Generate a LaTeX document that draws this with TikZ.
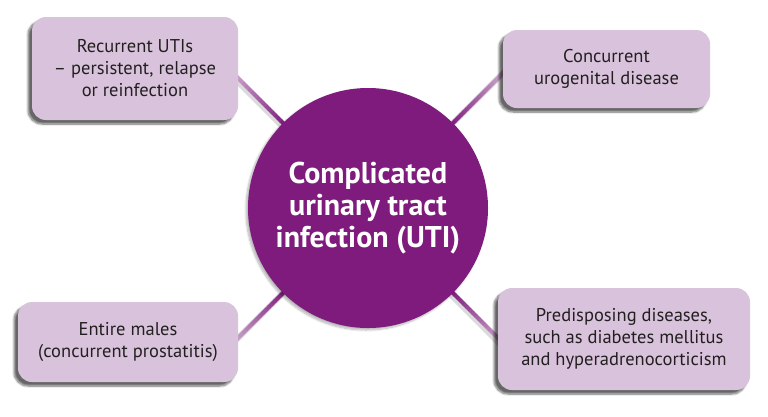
\documentclass[tikz,border=0pt]{standalone}
\usepackage{fontspec}
\setmainfont{PT Sans}
\usetikzlibrary{calc,shadows.blur,backgrounds}
\definecolor{plum}{HTML}{7E1B7D}
\definecolor{lilac}{HTML}{D9C3DC}
\definecolor{linelight}{HTML}{D6B8D8}
\definecolor{txt}{HTML}{231F20}
\tikzset{
  box/.style={rectangle, rounded corners=14pt, fill=lilac, text=txt, align=center,
    font=\fontsize{18.5}{22}\selectfont, inner sep=0pt,
    blur shadow={shadow xshift=-4pt, shadow yshift=-4pt, shadow blur steps=8, shadow opacity=60}},
  hub/.style={circle, fill=plum, text=white, align=center, minimum size=240pt, inner sep=0pt,
    font=\fontsize{30}{32}\selectfont\bfseries,
    blur shadow={shadow xshift=-2pt, shadow yshift=-2pt, shadow blur steps=8, shadow opacity=30}},
}
\begin{document}
\begin{tikzpicture}[x=1pt,y=-1pt]
\useasboundingbox (0,0) rectangle (768,416);
\node[hub] (c) at (368,208) {Complicated\\urinary tract\\infection (UTI)};
\node[box, minimum width=206pt, minimum height=103pt] (tl) at (135,68.5)
  {Recurrent UTIs\\– persistent, relapse\\or reinfection};
\node[box, minimum width=207pt, minimum height=78pt] (tr) at (606.5,69)
  {Concurrent\\urogenital disease};
\node[box, minimum width=220pt, minimum height=80pt] (bl) at (128,342)
  {Entire males\\(concurrent prostatitis)};
\node[box, minimum width=252pt, minimum height=102pt] (br) at (624,339)
  {Predisposing diseases,\\such as diabetes mellitus\\and hyperadrenocorticism};
\coordinate (etl) at ($(c)+(-140,-140)$);
\coordinate (etr) at ($(c)+(140,-140)$);
\coordinate (ebl) at ($(c)+(-140,140)$);
\coordinate (ebr) at ($(c)+(140,140)$);
\begin{scope}[on background layer]
\foreach \e in {etl,etr,ebl,ebr}{
  \draw[line width=6pt, black!40, opacity=.35] ($(c)!0.55!(\e)+(-2,2)$) -- ($(c)!1!(\e)+(-2,2)$);
  \foreach \i in {0,...,20}{
    \pgfmathsetmacro\ta{0.58+0.021*\i}
    \pgfmathsetmacro\tb{\ta+0.023}
    \pgfmathtruncatemacro\p{100-5*\i}
    \draw[line width=4pt, color=plum!\p!linelight] ($(c)!\ta!(\e)$) -- ($(c)!\tb!(\e)$);
  }
}
\end{scope}
\end{tikzpicture}
\end{document}
